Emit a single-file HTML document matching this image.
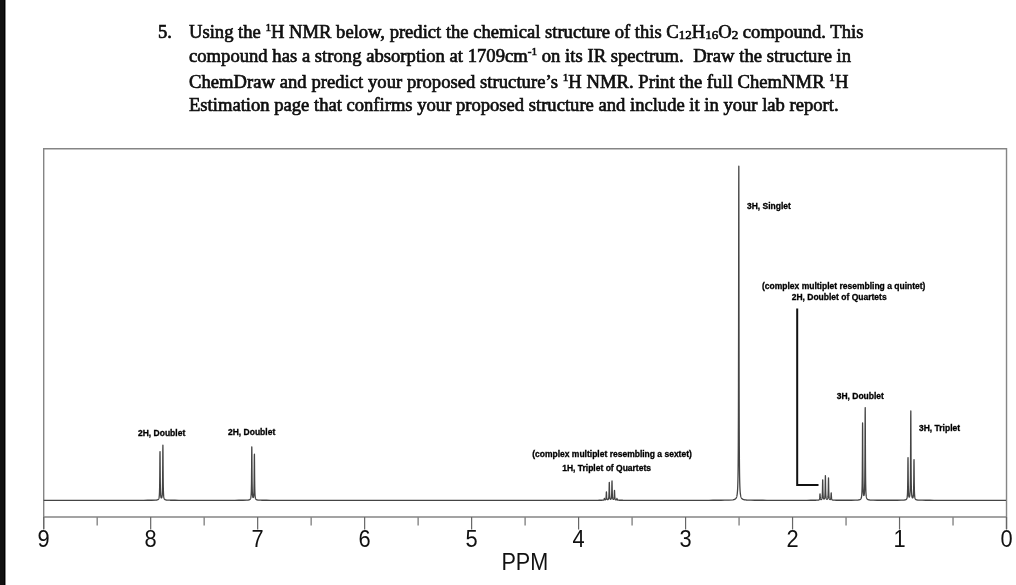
<!DOCTYPE html>
<html><head><meta charset="utf-8"><style>
html,body{margin:0;padding:0;background:#fff;}
body{width:1016px;height:585px;position:relative;overflow:hidden;}
.strip{position:absolute;left:0;top:0;width:4px;height:585px;background:#111;}
.strip2{position:absolute;left:4px;top:0;width:1px;height:585px;background:#000;}
.strip3{position:absolute;left:5px;top:0;width:1px;height:585px;background:#888;}
.t{position:absolute;font-family:"Liberation Serif",serif;font-size:18.6px;color:#111;white-space:pre;line-height:24.4px;-webkit-text-stroke:0.65px #0a0a0a;will-change:transform;}
sup{font-size:0.6em;vertical-align:0;position:relative;top:-0.62em;}
sub{font-size:0.7em;vertical-align:0;position:relative;top:0.09em;}
svg{position:absolute;left:0;top:0;}
.lab{font-family:"Liberation Sans",sans-serif;font-weight:bold;font-size:8.5px;fill:#000;stroke:#000;stroke-width:0.3px;}
.ax{font-family:"Liberation Sans",sans-serif;font-size:23.5px;fill:#111;}
</style></head><body>
<div class="strip"></div><div class="strip2"></div><div class="strip3"></div>
<div class="t" style="left:157.7px;top:19.9px;">5.</div>
<div class="t" style="left:189px;top:19.9px;">Using the <sup>1</sup>H NMR below, predict the chemical structure of this C<sub>12</sub>H<sub>16</sub>O<sub>2</sub> compound. This</div>
<div class="t" style="left:189px;top:43.7px;letter-spacing:0.025px;">compound has a strong absorption at 1709cm<sup>-1</sup> on its IR spectrum.  Draw the structure in</div>
<div class="t" style="left:189px;top:69.6px;letter-spacing:0.04px;">ChemDraw and predict your proposed structure’s <sup>1</sup>H NMR. Print the full ChemNMR <sup>1</sup>H</div>
<div class="t" style="left:189px;top:93px;">Estimation page that confirms your proposed structure and include it in your lab report.</div>
<svg width="1016" height="585" viewBox="0 0 1016 585">
<g fill="none" stroke="#858585" stroke-width="1.4">
<path d="M43.70,529 L43.70,148.8 L1006.52,148.8 L1006.52,529" />
<line x1="43.70" y1="517" x2="1006.52" y2="517" />
<line x1="43.70" y1="517" x2="43.70" y2="529.5" stroke="#666" stroke-width="1.2" /><line x1="97.19" y1="517" x2="97.19" y2="525.5" /><line x1="150.68" y1="517" x2="150.68" y2="529.5" stroke="#666" stroke-width="1.2" /><line x1="204.17" y1="517" x2="204.17" y2="525.5" /><line x1="257.66" y1="517" x2="257.66" y2="529.5" stroke="#666" stroke-width="1.2" /><line x1="311.15" y1="517" x2="311.15" y2="525.5" /><line x1="364.64" y1="517" x2="364.64" y2="529.5" stroke="#666" stroke-width="1.2" /><line x1="418.13" y1="517" x2="418.13" y2="525.5" /><line x1="471.62" y1="517" x2="471.62" y2="529.5" stroke="#666" stroke-width="1.2" /><line x1="525.11" y1="517" x2="525.11" y2="525.5" /><line x1="578.60" y1="517" x2="578.60" y2="529.5" stroke="#666" stroke-width="1.2" /><line x1="632.09" y1="517" x2="632.09" y2="525.5" /><line x1="685.58" y1="517" x2="685.58" y2="529.5" stroke="#666" stroke-width="1.2" /><line x1="739.07" y1="517" x2="739.07" y2="525.5" /><line x1="792.56" y1="517" x2="792.56" y2="529.5" stroke="#666" stroke-width="1.2" /><line x1="846.05" y1="517" x2="846.05" y2="525.5" /><line x1="899.54" y1="517" x2="899.54" y2="529.5" stroke="#666" stroke-width="1.2" /><line x1="953.03" y1="517" x2="953.03" y2="525.5" /><line x1="1006.52" y1="517" x2="1006.52" y2="529.5" stroke="#666" stroke-width="1.2" />
</g>
<path d="M43.70,500.30 L47.70,500.30 L51.70,500.30 L55.70,500.30 L59.70,500.30 L63.70,500.30 L67.70,500.30 L71.70,500.30 L75.70,500.30 L79.70,500.30 L83.70,500.30 L87.70,500.30 L91.70,500.30 L95.70,500.30 L99.70,500.30 L103.70,500.30 L107.70,500.30 L111.70,500.30 L115.70,500.30 L119.70,500.30 L123.70,500.30 L127.70,500.30 L131.70,500.29 L135.70,500.29 L139.70,500.29 L143.70,500.28 L147.70,500.27 L151.70,500.24 L155.70,500.12 L155.78,500.11 L155.86,500.11 L155.94,500.10 L156.02,500.09 L156.10,500.09 L156.18,500.08 L156.26,500.07 L156.34,500.06 L156.42,500.05 L156.50,500.04 L156.58,500.03 L156.66,500.02 L156.74,500.01 L156.82,500.00 L156.90,499.98 L156.98,499.97 L157.06,499.95 L157.14,499.93 L157.22,499.91 L157.30,499.89 L157.38,499.87 L157.46,499.85 L157.54,499.82 L157.62,499.79 L157.70,499.76 L157.78,499.72 L157.86,499.68 L157.94,499.64 L158.02,499.59 L158.10,499.54 L158.18,499.48 L158.26,499.41 L158.34,499.33 L158.42,499.24 L158.50,499.14 L158.58,499.01 L158.66,498.87 L158.74,498.70 L158.82,498.50 L158.90,498.26 L158.98,497.96 L159.06,497.59 L159.14,497.12 L159.22,496.51 L159.30,495.71 L159.38,494.63 L159.46,493.13 L159.54,490.98 L159.62,487.80 L159.70,482.98 L159.78,475.63 L159.86,465.28 L159.94,454.58 L160.02,451.58 L160.10,459.52 L160.18,470.71 L160.26,479.56 L160.34,485.50 L160.42,489.36 L160.50,491.93 L160.58,493.67 L160.66,494.90 L160.74,495.77 L160.82,496.42 L160.90,496.89 L160.98,497.25 L161.06,497.51 L161.14,497.70 L161.22,497.84 L161.30,497.92 L161.38,497.97 L161.46,497.97 L161.54,497.93 L161.62,497.84 L161.70,497.71 L161.78,497.53 L161.86,497.28 L161.94,496.95 L162.02,496.50 L162.10,495.92 L162.18,495.13 L162.26,494.05 L162.34,492.54 L162.42,490.39 L162.50,487.20 L162.58,482.36 L162.66,474.95 L162.74,464.14 L162.82,451.60 L162.90,445.22 L162.98,451.63 L163.06,464.21 L163.14,475.04 L163.22,482.48 L163.30,487.36 L163.38,490.58 L163.46,492.78 L163.54,494.32 L163.62,495.44 L163.70,496.27 L163.78,496.91 L163.86,497.41 L163.94,497.80 L164.02,498.12 L164.10,498.38 L164.18,498.59 L164.26,498.77 L164.34,498.92 L164.42,499.05 L164.50,499.17 L164.58,499.26 L164.66,499.35 L164.74,499.42 L164.82,499.49 L164.90,499.55 L164.98,499.60 L165.06,499.64 L165.14,499.69 L165.22,499.72 L165.30,499.76 L165.38,499.79 L165.46,499.82 L165.54,499.84 L165.62,499.87 L165.70,499.89 L165.78,499.91 L165.86,499.93 L165.94,499.95 L166.02,499.96 L166.10,499.98 L166.18,499.99 L166.26,500.01 L166.34,500.02 L166.42,500.03 L166.50,500.04 L166.58,500.05 L166.66,500.06 L166.74,500.07 L166.82,500.08 L166.90,500.08 L166.98,500.09 L167.06,500.10 L167.14,500.11 L167.22,500.11 L167.30,500.12 L167.38,500.12 L167.46,500.13 L167.54,500.13 L167.62,500.14 L167.70,500.14 L167.78,500.15 L167.86,500.15 L167.94,500.16 L168.02,500.16 L168.10,500.17 L168.18,500.17 L168.26,500.17 L168.34,500.18 L168.42,500.18 L168.50,500.18 L168.58,500.19 L168.66,500.19 L168.74,500.19 L168.82,500.19 L168.90,500.20 L168.98,500.20 L169.06,500.20 L169.14,500.20 L169.22,500.21 L169.30,500.21 L169.38,500.21 L169.46,500.21 L169.54,500.21 L169.62,500.22 L169.70,500.22 L169.78,500.22 L169.86,500.22 L169.94,500.22 L170.02,500.22 L170.10,500.22 L170.18,500.23 L170.26,500.23 L170.34,500.23 L170.42,500.23 L170.50,500.23 L170.58,500.23 L170.66,500.23 L170.74,500.24 L170.82,500.24 L170.90,500.24 L174.90,500.27 L178.90,500.28 L182.90,500.29 L186.90,500.29 L190.90,500.29 L194.90,500.29 L198.90,500.29 L202.90,500.30 L206.90,500.30 L210.90,500.30 L214.90,500.29 L218.90,500.29 L222.90,500.29 L226.90,500.29 L230.90,500.29 L234.90,500.28 L238.90,500.27 L242.90,500.25 L246.90,500.15 L246.98,500.15 L247.06,500.14 L247.14,500.14 L247.22,500.13 L247.30,500.13 L247.38,500.12 L247.46,500.12 L247.54,500.11 L247.62,500.10 L247.70,500.10 L247.78,500.09 L247.86,500.08 L247.94,500.07 L248.02,500.06 L248.10,500.05 L248.18,500.04 L248.26,500.03 L248.34,500.02 L248.42,500.01 L248.50,500.00 L248.58,499.98 L248.66,499.97 L248.74,499.95 L248.82,499.94 L248.90,499.92 L248.98,499.90 L249.06,499.88 L249.14,499.85 L249.22,499.83 L249.30,499.80 L249.38,499.77 L249.46,499.74 L249.54,499.70 L249.62,499.66 L249.70,499.62 L249.78,499.57 L249.86,499.51 L249.94,499.45 L250.02,499.38 L250.10,499.30 L250.18,499.20 L250.26,499.10 L250.34,498.97 L250.42,498.83 L250.50,498.66 L250.58,498.46 L250.66,498.22 L250.74,497.92 L250.82,497.55 L250.90,497.10 L250.98,496.51 L251.06,495.75 L251.14,494.73 L251.22,493.34 L251.30,491.37 L251.38,488.52 L251.46,484.22 L251.54,477.66 L251.62,467.91 L251.70,455.57 L251.78,446.82 L251.86,450.07 L251.94,461.78 L252.02,473.11 L252.10,481.14 L252.18,486.40 L252.26,489.84 L252.34,492.15 L252.42,493.74 L252.50,494.87 L252.58,495.69 L252.66,496.28 L252.74,496.72 L252.82,497.04 L252.90,497.27 L252.98,497.42 L253.06,497.50 L253.14,497.53 L253.22,497.49 L253.30,497.40 L253.38,497.23 L253.46,496.98 L253.54,496.62 L253.62,496.13 L253.70,495.45 L253.78,494.49 L253.86,493.13 L253.94,491.16 L254.02,488.21 L254.10,483.69 L254.18,476.80 L254.26,467.06 L254.34,456.99 L254.42,454.20 L254.50,461.74 L254.58,472.35 L254.66,480.75 L254.74,486.40 L254.82,490.09 L254.90,492.55 L254.98,494.25 L255.06,495.45 L255.14,496.32 L255.22,496.98 L255.30,497.49 L255.38,497.89 L255.46,498.20 L255.54,498.46 L255.62,498.67 L255.70,498.85 L255.78,498.99 L255.86,499.12 L255.94,499.23 L256.02,499.32 L256.10,499.40 L256.18,499.47 L256.26,499.53 L256.34,499.59 L256.42,499.64 L256.50,499.68 L256.58,499.72 L256.66,499.76 L256.74,499.79 L256.82,499.82 L256.90,499.85 L256.98,499.87 L257.06,499.89 L257.14,499.91 L257.22,499.93 L257.30,499.95 L257.38,499.97 L257.46,499.98 L257.54,500.00 L257.62,500.01 L257.70,500.02 L257.78,500.03 L257.86,500.04 L257.94,500.05 L258.02,500.06 L258.10,500.07 L258.18,500.08 L258.26,500.09 L258.34,500.10 L258.42,500.10 L258.50,500.11 L258.58,500.12 L258.66,500.12 L258.74,500.13 L258.82,500.13 L258.90,500.14 L258.98,500.14 L259.06,500.15 L259.14,500.15 L259.22,500.16 L259.30,500.16 L259.38,500.16 L259.46,500.17 L259.54,500.17 L259.62,500.18 L259.70,500.18 L259.78,500.18 L259.86,500.18 L259.94,500.19 L260.02,500.19 L260.10,500.19 L260.18,500.20 L260.26,500.20 L260.34,500.20 L260.42,500.20 L260.50,500.21 L260.58,500.21 L260.66,500.21 L260.74,500.21 L260.82,500.21 L260.90,500.22 L260.98,500.22 L261.06,500.22 L261.14,500.22 L261.22,500.22 L261.30,500.22 L261.38,500.23 L261.46,500.23 L261.54,500.23 L261.62,500.23 L261.70,500.23 L261.78,500.23 L261.86,500.23 L261.94,500.23 L262.02,500.24 L262.10,500.24 L262.18,500.24 L262.26,500.24 L262.34,500.24 L262.42,500.24 L266.42,500.27 L270.42,500.28 L274.42,500.29 L278.42,500.29 L282.42,500.29 L286.42,500.30 L290.42,500.30 L294.42,500.30 L298.42,500.30 L302.42,500.30 L306.42,500.30 L310.42,500.30 L314.42,500.30 L318.42,500.30 L322.42,500.30 L326.42,500.30 L330.42,500.30 L334.42,500.30 L338.42,500.30 L342.42,500.30 L346.42,500.30 L350.42,500.30 L354.42,500.30 L358.42,500.30 L362.42,500.30 L366.42,500.30 L370.42,500.30 L374.42,500.30 L378.42,500.30 L382.42,500.30 L386.42,500.30 L390.42,500.30 L394.42,500.30 L398.42,500.30 L402.42,500.30 L406.42,500.30 L410.42,500.30 L414.42,500.30 L418.42,500.30 L422.42,500.30 L426.42,500.30 L430.42,500.30 L434.42,500.30 L438.42,500.30 L442.42,500.30 L446.42,500.30 L450.42,500.30 L454.42,500.30 L458.42,500.30 L462.42,500.30 L466.42,500.30 L470.42,500.30 L474.42,500.30 L478.42,500.30 L482.42,500.30 L486.42,500.30 L490.42,500.30 L494.42,500.30 L498.42,500.30 L502.42,500.30 L506.42,500.30 L510.42,500.30 L514.42,500.30 L518.42,500.30 L522.42,500.30 L526.42,500.30 L530.42,500.30 L534.42,500.30 L538.42,500.30 L542.42,500.30 L546.42,500.30 L550.42,500.30 L554.42,500.30 L558.42,500.30 L562.42,500.30 L566.42,500.30 L570.42,500.30 L574.42,500.30 L578.42,500.30 L582.42,500.30 L586.42,500.29 L590.42,500.29 L594.42,500.29 L598.42,500.28 L598.50,500.28 L598.58,500.27 L598.66,500.27 L598.74,500.27 L598.82,500.27 L598.90,500.27 L598.98,500.27 L599.06,500.27 L599.14,500.27 L599.22,500.27 L599.30,500.27 L599.38,500.27 L599.46,500.27 L599.54,500.27 L599.62,500.27 L599.70,500.27 L599.78,500.27 L599.86,500.27 L599.94,500.27 L600.02,500.27 L600.10,500.26 L600.18,500.26 L600.26,500.26 L600.34,500.26 L600.42,500.26 L600.50,500.26 L600.58,500.26 L600.66,500.26 L600.74,500.26 L600.82,500.26 L600.90,500.26 L600.98,500.25 L601.06,500.25 L601.14,500.25 L601.22,500.25 L601.30,500.25 L601.38,500.25 L601.46,500.25 L601.54,500.25 L601.62,500.24 L601.70,500.24 L601.78,500.24 L601.86,500.24 L601.94,500.24 L602.02,500.23 L602.10,500.23 L602.18,500.23 L602.26,500.23 L602.34,500.22 L602.42,500.22 L602.50,500.22 L602.58,500.21 L602.66,500.21 L602.74,500.20 L602.82,500.20 L602.90,500.19 L602.98,500.19 L603.06,500.18 L603.14,500.17 L603.22,500.16 L603.30,500.15 L603.38,500.13 L603.46,500.12 L603.54,500.10 L603.62,500.07 L603.70,500.04 L603.78,499.99 L603.86,499.93 L603.94,499.85 L604.02,499.73 L604.10,499.54 L604.18,499.26 L604.26,498.88 L604.34,498.47 L604.42,498.35 L604.50,498.64 L604.58,499.04 L604.66,499.35 L604.74,499.56 L604.82,499.69 L604.90,499.76 L604.98,499.81 L605.06,499.83 L605.14,499.83 L605.22,499.82 L605.30,499.80 L605.38,499.76 L605.46,499.71 L605.54,499.63 L605.62,499.54 L605.70,499.41 L605.78,499.23 L605.86,498.97 L605.94,498.61 L606.02,498.07 L606.10,497.25 L606.18,496.00 L606.26,494.24 L606.34,492.42 L606.42,491.90 L606.50,493.25 L606.58,495.15 L606.66,496.65 L606.74,497.66 L606.82,498.31 L606.90,498.75 L606.98,499.04 L607.06,499.24 L607.14,499.38 L607.22,499.48 L607.30,499.56 L607.38,499.61 L607.46,499.64 L607.54,499.66 L607.62,499.67 L607.70,499.67 L607.78,499.66 L607.86,499.64 L607.94,499.60 L608.02,499.56 L608.10,499.50 L608.18,499.43 L608.26,499.34 L608.34,499.22 L608.42,499.06 L608.50,498.86 L608.58,498.60 L608.66,498.24 L608.74,497.74 L608.82,497.03 L608.90,495.98 L608.98,494.40 L609.06,491.99 L609.14,488.47 L609.22,484.38 L609.30,482.30 L609.38,484.37 L609.46,488.45 L609.54,491.95 L609.62,494.36 L609.70,495.93 L609.78,496.96 L609.86,497.66 L609.94,498.14 L610.02,498.48 L610.10,498.73 L610.18,498.92 L610.26,499.05 L610.34,499.15 L610.42,499.21 L610.50,499.26 L610.58,499.28 L610.66,499.28 L610.74,499.26 L610.82,499.23 L610.90,499.17 L610.98,499.08 L611.06,498.96 L611.14,498.80 L611.22,498.58 L611.30,498.28 L611.38,497.87 L611.46,497.30 L611.54,496.46 L611.62,495.22 L611.70,493.32 L611.78,490.43 L611.86,486.35 L611.94,482.12 L612.02,480.95 L612.10,484.09 L612.18,488.53 L612.26,492.04 L612.34,494.39 L612.42,495.93 L612.50,496.95 L612.58,497.65 L612.66,498.14 L612.74,498.49 L612.82,498.75 L612.90,498.95 L612.98,499.09 L613.06,499.20 L613.14,499.28 L613.22,499.34 L613.30,499.37 L613.38,499.39 L613.46,499.38 L613.54,499.36 L613.62,499.31 L613.70,499.23 L613.78,499.11 L613.86,498.94 L613.94,498.69 L614.02,498.31 L614.10,497.76 L614.18,496.90 L614.26,495.59 L614.34,493.67 L614.42,491.43 L614.50,490.30 L614.58,491.45 L614.66,493.70 L614.74,495.65 L614.82,496.98 L614.90,497.86 L614.98,498.44 L615.06,498.83 L615.14,499.11 L615.22,499.31 L615.30,499.46 L615.38,499.57 L615.46,499.66 L615.54,499.73 L615.62,499.78 L615.70,499.83 L615.78,499.86 L615.86,499.88 L615.94,499.90 L616.02,499.91 L616.10,499.91 L616.18,499.90 L616.26,499.88 L616.34,499.85 L616.42,499.79 L616.50,499.70 L616.58,499.55 L616.66,499.31 L616.74,498.97 L616.82,498.56 L616.90,498.36 L616.98,498.58 L617.06,498.99 L617.14,499.36 L617.22,499.61 L617.30,499.77 L617.38,499.88 L617.46,499.96 L617.54,500.01 L617.62,500.05 L617.70,500.08 L617.78,500.11 L617.86,500.12 L617.94,500.14 L618.02,500.15 L618.10,500.16 L618.18,500.17 L618.26,500.18 L618.34,500.19 L618.42,500.19 L618.50,500.20 L618.58,500.21 L618.66,500.21 L618.74,500.21 L618.82,500.22 L618.90,500.22 L618.98,500.22 L619.06,500.23 L619.14,500.23 L619.22,500.23 L619.30,500.23 L619.38,500.24 L619.46,500.24 L619.54,500.24 L619.62,500.24 L619.70,500.24 L619.78,500.25 L619.86,500.25 L619.94,500.25 L620.02,500.25 L620.10,500.25 L620.18,500.25 L620.26,500.25 L620.34,500.25 L620.42,500.26 L620.50,500.26 L620.58,500.26 L620.66,500.26 L620.74,500.26 L620.82,500.26 L620.90,500.26 L620.98,500.26 L621.06,500.26 L621.14,500.26 L621.22,500.26 L621.30,500.26 L621.38,500.27 L621.46,500.27 L621.54,500.27 L621.62,500.27 L621.70,500.27 L621.78,500.27 L621.86,500.27 L621.94,500.27 L622.02,500.27 L622.10,500.27 L622.18,500.27 L622.26,500.27 L622.34,500.27 L622.42,500.27 L622.50,500.27 L622.58,500.27 L622.66,500.27 L622.74,500.27 L622.82,500.27 L622.90,500.28 L622.98,500.28 L623.06,500.28 L623.14,500.28 L623.22,500.28 L623.30,500.28 L623.38,500.28 L623.46,500.28 L623.54,500.28 L623.62,500.28 L623.70,500.28 L623.78,500.28 L623.86,500.28 L623.94,500.28 L624.02,500.28 L624.10,500.28 L624.18,500.28 L624.26,500.28 L624.34,500.28 L624.42,500.28 L624.50,500.28 L624.58,500.28 L624.66,500.28 L624.74,500.28 L624.82,500.28 L624.90,500.28 L628.90,500.29 L632.90,500.29 L636.90,500.29 L640.90,500.29 L644.90,500.30 L648.90,500.30 L652.90,500.30 L656.90,500.30 L660.90,500.30 L664.90,500.30 L668.90,500.30 L672.90,500.29 L676.90,500.29 L680.90,500.29 L684.90,500.29 L688.90,500.29 L692.90,500.29 L696.90,500.29 L700.90,500.29 L704.90,500.28 L708.90,500.28 L712.90,500.27 L716.90,500.26 L720.90,500.25 L724.90,500.21 L728.90,500.13 L732.90,499.83 L732.98,499.82 L733.06,499.80 L733.14,499.79 L733.22,499.78 L733.30,499.76 L733.38,499.74 L733.46,499.73 L733.54,499.71 L733.62,499.69 L733.70,499.67 L733.78,499.65 L733.86,499.63 L733.94,499.61 L734.02,499.59 L734.10,499.56 L734.18,499.54 L734.26,499.51 L734.34,499.48 L734.42,499.45 L734.50,499.42 L734.58,499.39 L734.66,499.35 L734.74,499.31 L734.82,499.27 L734.90,499.23 L734.98,499.19 L735.06,499.14 L735.14,499.09 L735.22,499.03 L735.30,498.97 L735.38,498.91 L735.46,498.84 L735.54,498.77 L735.62,498.69 L735.70,498.61 L735.78,498.52 L735.86,498.42 L735.94,498.32 L736.02,498.20 L736.10,498.08 L736.18,497.94 L736.26,497.79 L736.34,497.63 L736.42,497.45 L736.50,497.24 L736.58,497.02 L736.66,496.78 L736.74,496.50 L736.82,496.19 L736.90,495.84 L736.98,495.45 L737.06,495.00 L737.14,494.48 L737.22,493.89 L737.30,493.21 L737.38,492.40 L737.46,491.46 L737.54,490.33 L737.62,488.98 L737.70,487.34 L737.78,485.33 L737.86,482.81 L737.94,479.61 L738.02,475.48 L738.10,470.02 L738.18,462.63 L738.26,452.35 L738.34,437.60 L738.42,415.75 L738.50,382.52 L738.58,331.90 L738.66,260.58 L738.74,186.82 L738.82,166.26 L738.90,221.17 L738.98,298.55 L739.06,359.77 L739.14,400.90 L739.22,427.78 L739.30,445.67 L739.38,457.94 L739.46,466.62 L739.54,472.95 L739.62,477.68 L739.70,481.31 L739.78,484.14 L739.86,486.39 L739.94,488.21 L740.02,489.69 L740.10,490.92 L740.18,491.95 L740.26,492.82 L740.34,493.56 L740.42,494.20 L740.50,494.75 L740.58,495.23 L740.66,495.65 L740.74,496.02 L740.82,496.35 L740.90,496.64 L740.98,496.90 L741.06,497.14 L741.14,497.35 L741.22,497.54 L741.30,497.71 L741.38,497.87 L741.46,498.01 L741.54,498.14 L741.62,498.26 L741.70,498.37 L741.78,498.47 L741.86,498.57 L741.94,498.65 L742.02,498.73 L742.10,498.81 L742.18,498.88 L742.26,498.94 L742.34,499.00 L742.42,499.06 L742.50,499.11 L742.58,499.16 L742.66,499.21 L742.74,499.25 L742.82,499.29 L742.90,499.33 L742.98,499.37 L743.06,499.40 L743.14,499.44 L743.22,499.47 L743.30,499.50 L743.38,499.52 L743.46,499.55 L743.54,499.57 L743.62,499.60 L743.70,499.62 L743.78,499.64 L743.86,499.66 L743.94,499.68 L744.02,499.70 L744.10,499.72 L744.18,499.74 L744.26,499.75 L744.34,499.77 L744.42,499.78 L744.50,499.80 L744.58,499.81 L744.66,499.82 L744.74,499.84 L744.82,499.85 L744.90,499.86 L744.98,499.87 L745.06,499.88 L745.14,499.89 L745.22,499.90 L745.30,499.91 L745.38,499.92 L745.46,499.93 L745.54,499.94 L745.62,499.95 L745.70,499.96 L745.78,499.96 L745.86,499.97 L745.94,499.98 L746.02,499.99 L746.10,499.99 L746.18,500.00 L746.26,500.01 L746.34,500.01 L746.42,500.02 L746.50,500.02 L746.58,500.03 L746.66,500.03 L746.74,500.04 L746.82,500.05 L750.82,500.19 L754.82,500.23 L758.82,500.26 L762.82,500.27 L766.82,500.28 L770.82,500.28 L774.82,500.28 L778.82,500.29 L782.82,500.29 L786.82,500.29 L790.82,500.29 L794.82,500.29 L798.82,500.29 L802.82,500.29 L806.82,500.28 L810.82,500.27 L814.82,500.25 L814.90,500.25 L814.98,500.25 L815.06,500.24 L815.14,500.24 L815.22,500.24 L815.30,500.24 L815.38,500.24 L815.46,500.24 L815.54,500.24 L815.62,500.24 L815.70,500.24 L815.78,500.23 L815.86,500.23 L815.94,500.23 L816.02,500.23 L816.10,500.23 L816.18,500.23 L816.26,500.22 L816.34,500.22 L816.42,500.22 L816.50,500.22 L816.58,500.22 L816.66,500.21 L816.74,500.21 L816.82,500.21 L816.90,500.20 L816.98,500.20 L817.06,500.20 L817.14,500.20 L817.22,500.19 L817.30,500.19 L817.38,500.18 L817.46,500.18 L817.54,500.17 L817.62,500.17 L817.70,500.16 L817.78,500.16 L817.86,500.15 L817.94,500.14 L818.02,500.14 L818.10,500.13 L818.18,500.12 L818.26,500.11 L818.34,500.09 L818.42,500.08 L818.50,500.06 L818.58,500.05 L818.66,500.03 L818.74,500.00 L818.82,499.97 L818.90,499.94 L818.98,499.90 L819.06,499.85 L819.14,499.78 L819.22,499.70 L819.30,499.59 L819.38,499.45 L819.46,499.25 L819.54,498.97 L819.62,498.55 L819.70,497.92 L819.78,496.97 L819.86,495.63 L819.94,494.24 L820.02,493.85 L820.10,494.86 L820.18,496.30 L820.26,497.43 L820.34,498.19 L820.42,498.68 L820.50,498.99 L820.58,499.21 L820.66,499.35 L820.74,499.45 L820.82,499.51 L820.90,499.55 L820.98,499.57 L821.06,499.58 L821.14,499.57 L821.22,499.55 L821.30,499.52 L821.38,499.48 L821.46,499.42 L821.54,499.34 L821.62,499.24 L821.70,499.11 L821.78,498.95 L821.86,498.75 L821.94,498.48 L822.02,498.11 L822.10,497.62 L822.18,496.92 L822.26,495.92 L822.34,494.42 L822.42,492.13 L822.50,488.68 L822.58,484.03 L822.66,479.92 L822.74,479.91 L822.82,484.01 L822.90,488.64 L822.98,492.08 L823.06,494.35 L823.14,495.83 L823.22,496.81 L823.30,497.49 L823.38,497.96 L823.46,498.30 L823.54,498.54 L823.62,498.72 L823.70,498.85 L823.78,498.94 L823.86,499.00 L823.94,499.03 L824.02,499.04 L824.10,499.02 L824.18,498.98 L824.26,498.92 L824.34,498.82 L824.42,498.69 L824.50,498.51 L824.58,498.27 L824.66,497.94 L824.74,497.49 L824.82,496.87 L824.90,495.99 L824.98,494.69 L825.06,492.74 L825.14,489.74 L825.22,485.28 L825.30,479.63 L825.38,475.62 L825.46,477.13 L825.54,482.51 L825.62,487.72 L825.70,491.42 L825.78,493.84 L825.86,495.44 L825.94,496.51 L826.02,497.25 L826.10,497.79 L826.18,498.17 L826.26,498.47 L826.34,498.69 L826.42,498.86 L826.50,498.99 L826.58,499.09 L826.66,499.16 L826.74,499.22 L826.82,499.25 L826.90,499.28 L826.98,499.28 L827.06,499.28 L827.14,499.26 L827.22,499.22 L827.30,499.16 L827.38,499.09 L827.46,498.98 L827.54,498.85 L827.62,498.67 L827.70,498.43 L827.78,498.10 L827.86,497.66 L827.94,497.05 L828.02,496.17 L828.10,494.87 L828.18,492.90 L828.26,489.89 L828.34,485.49 L828.42,480.38 L828.50,477.78 L828.58,480.39 L828.66,485.51 L828.74,489.91 L828.82,492.94 L828.90,494.92 L828.98,496.23 L829.06,497.11 L829.14,497.74 L829.22,498.19 L829.30,498.52 L829.38,498.77 L829.46,498.96 L829.54,499.11 L829.62,499.23 L829.70,499.32 L829.78,499.39 L829.86,499.45 L829.94,499.49 L830.02,499.51 L830.10,499.52 L830.18,499.52 L830.26,499.50 L830.34,499.46 L830.42,499.40 L830.50,499.30 L830.58,499.16 L830.66,498.96 L830.74,498.66 L830.82,498.20 L830.90,497.49 L830.98,496.41 L831.06,494.88 L831.14,493.29 L831.22,492.85 L831.30,494.05 L831.38,495.74 L831.46,497.07 L831.54,497.97 L831.62,498.56 L831.70,498.96 L831.78,499.23 L831.86,499.42 L831.94,499.56 L832.02,499.67 L832.10,499.75 L832.18,499.82 L832.26,499.87 L832.34,499.92 L832.42,499.95 L832.50,499.98 L832.58,500.01 L832.66,500.03 L832.74,500.05 L832.82,500.07 L832.90,500.08 L832.98,500.09 L833.06,500.10 L833.14,500.11 L833.22,500.12 L833.30,500.13 L833.38,500.14 L833.46,500.15 L833.54,500.15 L833.62,500.16 L833.70,500.16 L833.78,500.17 L833.86,500.17 L833.94,500.18 L834.02,500.18 L834.10,500.19 L834.18,500.19 L834.26,500.19 L834.34,500.20 L834.42,500.20 L834.50,500.20 L834.58,500.20 L834.66,500.21 L834.74,500.21 L834.82,500.21 L834.90,500.21 L834.98,500.22 L835.06,500.22 L835.14,500.22 L835.22,500.22 L835.30,500.22 L835.38,500.22 L835.46,500.23 L835.54,500.23 L835.62,500.23 L835.70,500.23 L835.78,500.23 L835.86,500.23 L835.94,500.23 L836.02,500.23 L836.10,500.24 L836.18,500.24 L836.26,500.24 L836.34,500.24 L836.42,500.24 L836.50,500.24 L836.58,500.24 L836.66,500.24 L836.74,500.24 L836.82,500.24 L836.90,500.24 L836.98,500.24 L837.06,500.25 L837.14,500.25 L837.22,500.25 L837.30,500.25 L837.38,500.25 L837.46,500.25 L837.54,500.25 L837.62,500.25 L837.70,500.25 L837.78,500.25 L837.86,500.25 L837.94,500.25 L838.02,500.25 L838.10,500.25 L838.18,500.25 L838.26,500.25 L838.34,500.25 L838.42,500.25 L838.50,500.25 L838.58,500.26 L838.66,500.26 L838.74,500.26 L838.82,500.26 L838.90,500.26 L838.98,500.26 L839.06,500.26 L839.14,500.26 L839.22,500.26 L843.22,500.26 L847.22,500.26 L851.22,500.24 L855.22,500.18 L855.30,500.18 L855.38,500.17 L855.46,500.17 L855.54,500.17 L855.62,500.17 L855.70,500.16 L855.78,500.16 L855.86,500.16 L855.94,500.15 L856.02,500.15 L856.10,500.15 L856.18,500.15 L856.26,500.14 L856.34,500.14 L856.42,500.14 L856.50,500.13 L856.58,500.13 L856.66,500.12 L856.74,500.12 L856.82,500.12 L856.90,500.11 L856.98,500.11 L857.06,500.10 L857.14,500.10 L857.22,500.09 L857.30,500.09 L857.38,500.08 L857.46,500.08 L857.54,500.07 L857.62,500.06 L857.70,500.06 L857.78,500.05 L857.86,500.04 L857.94,500.03 L858.02,500.03 L858.10,500.02 L858.18,500.01 L858.26,500.00 L858.34,499.99 L858.42,499.98 L858.50,499.97 L858.58,499.96 L858.66,499.95 L858.74,499.93 L858.82,499.92 L858.90,499.91 L858.98,499.89 L859.06,499.88 L859.14,499.86 L859.22,499.84 L859.30,499.82 L859.38,499.80 L859.46,499.78 L859.54,499.75 L859.62,499.73 L859.70,499.70 L859.78,499.67 L859.86,499.64 L859.94,499.60 L860.02,499.57 L860.10,499.53 L860.18,499.48 L860.26,499.43 L860.34,499.38 L860.42,499.32 L860.50,499.25 L860.58,499.18 L860.66,499.09 L860.74,499.00 L860.82,498.90 L860.90,498.78 L860.98,498.64 L861.06,498.48 L861.14,498.30 L861.22,498.09 L861.30,497.85 L861.38,497.55 L861.46,497.20 L861.54,496.77 L861.62,496.23 L861.70,495.57 L861.78,494.72 L861.86,493.61 L861.94,492.14 L862.02,490.13 L862.10,487.29 L862.18,483.16 L862.26,476.96 L862.34,467.49 L862.42,453.41 L862.50,435.62 L862.58,422.98 L862.66,427.65 L862.74,444.54 L862.82,460.86 L862.90,472.42 L862.98,479.98 L863.06,484.93 L863.14,488.24 L863.22,490.51 L863.30,492.11 L863.38,493.26 L863.46,494.08 L863.54,494.67 L863.62,495.09 L863.70,495.36 L863.78,495.52 L863.86,495.57 L863.94,495.52 L864.02,495.36 L864.10,495.09 L864.18,494.69 L864.26,494.13 L864.34,493.37 L864.42,492.33 L864.50,490.92 L864.58,488.96 L864.66,486.20 L864.74,482.19 L864.82,476.22 L864.90,467.10 L864.98,453.19 L865.06,433.56 L865.14,413.25 L865.22,407.61 L865.30,422.79 L865.38,444.16 L865.46,461.08 L865.54,472.45 L865.62,479.88 L865.70,484.84 L865.78,488.24 L865.86,490.65 L865.94,492.41 L866.02,493.74 L866.10,494.75 L866.18,495.54 L866.26,496.18 L866.34,496.69 L866.42,497.11 L866.50,497.46 L866.58,497.75 L866.66,498.00 L866.74,498.22 L866.82,498.40 L866.90,498.56 L866.98,498.70 L867.06,498.82 L867.14,498.93 L867.22,499.03 L867.30,499.11 L867.38,499.19 L867.46,499.26 L867.54,499.33 L867.62,499.38 L867.70,499.43 L867.78,499.48 L867.86,499.53 L867.94,499.57 L868.02,499.60 L868.10,499.64 L868.18,499.67 L868.26,499.70 L868.34,499.72 L868.42,499.75 L868.50,499.77 L868.58,499.80 L868.66,499.82 L868.74,499.84 L868.82,499.85 L868.90,499.87 L868.98,499.89 L869.06,499.90 L869.14,499.92 L869.22,499.93 L869.30,499.94 L869.38,499.95 L869.46,499.97 L869.54,499.98 L869.62,499.99 L869.70,500.00 L869.78,500.01 L869.86,500.01 L869.94,500.02 L870.02,500.03 L870.10,500.04 L870.18,500.05 L870.26,500.05 L870.34,500.06 L870.42,500.07 L870.50,500.07 L870.58,500.08 L870.66,500.08 L870.74,500.09 L870.82,500.09 L870.90,500.10 L870.98,500.10 L871.06,500.11 L871.14,500.11 L871.22,500.12 L871.30,500.12 L871.38,500.13 L871.46,500.13 L871.54,500.13 L871.62,500.14 L871.70,500.14 L871.78,500.14 L871.86,500.15 L871.94,500.15 L872.02,500.15 L872.10,500.16 L872.18,500.16 L872.26,500.16 L872.34,500.16 L872.42,500.17 L872.50,500.17 L872.58,500.17 L872.66,500.17 L872.74,500.18 L872.82,500.18 L872.90,500.18 L872.98,500.18 L873.06,500.18 L873.14,500.19 L873.22,500.19 L877.22,500.24 L881.22,500.26 L885.22,500.27 L889.22,500.27 L893.22,500.26 L897.22,500.24 L901.22,500.19 L901.30,500.19 L901.38,500.18 L901.46,500.18 L901.54,500.18 L901.62,500.18 L901.70,500.18 L901.78,500.17 L901.86,500.17 L901.94,500.17 L902.02,500.17 L902.10,500.16 L902.18,500.16 L902.26,500.16 L902.34,500.15 L902.42,500.15 L902.50,500.15 L902.58,500.14 L902.66,500.14 L902.74,500.14 L902.82,500.13 L902.90,500.13 L902.98,500.12 L903.06,500.12 L903.14,500.12 L903.22,500.11 L903.30,500.11 L903.38,500.10 L903.46,500.10 L903.54,500.09 L903.62,500.08 L903.70,500.08 L903.78,500.07 L903.86,500.06 L903.94,500.06 L904.02,500.05 L904.10,500.04 L904.18,500.03 L904.26,500.03 L904.34,500.02 L904.42,500.01 L904.50,500.00 L904.58,499.98 L904.66,499.97 L904.74,499.96 L904.82,499.95 L904.90,499.93 L904.98,499.92 L905.06,499.90 L905.14,499.88 L905.22,499.86 L905.30,499.84 L905.38,499.82 L905.46,499.80 L905.54,499.77 L905.62,499.74 L905.70,499.71 L905.78,499.68 L905.86,499.64 L905.94,499.60 L906.02,499.56 L906.10,499.50 L906.18,499.45 L906.26,499.38 L906.34,499.31 L906.42,499.23 L906.50,499.13 L906.58,499.02 L906.66,498.89 L906.74,498.74 L906.82,498.56 L906.90,498.34 L906.98,498.07 L907.06,497.74 L907.14,497.32 L907.22,496.78 L907.30,496.08 L907.38,495.13 L907.46,493.81 L907.54,491.93 L907.62,489.15 L907.70,484.93 L907.78,478.52 L907.86,469.49 L907.94,460.16 L908.02,457.53 L908.10,464.42 L908.18,474.15 L908.26,481.84 L908.34,486.98 L908.42,490.32 L908.50,492.52 L908.58,494.01 L908.66,495.04 L908.74,495.76 L908.82,496.28 L908.90,496.64 L908.98,496.89 L909.06,497.05 L909.14,497.14 L909.22,497.17 L909.30,497.14 L909.38,497.05 L909.46,496.90 L909.54,496.70 L909.62,496.41 L909.70,496.04 L909.78,495.56 L909.86,494.94 L909.94,494.13 L910.02,493.07 L910.10,491.65 L910.18,489.71 L910.26,487.00 L910.34,483.10 L910.42,477.30 L910.50,468.47 L910.58,455.02 L910.66,436.06 L910.74,416.44 L910.82,410.98 L910.90,425.59 L910.98,446.18 L911.06,462.47 L911.14,473.41 L911.22,480.55 L911.30,485.31 L911.38,488.56 L911.46,490.86 L911.54,492.53 L911.62,493.78 L911.70,494.73 L911.78,495.46 L911.86,496.03 L911.94,496.49 L912.02,496.85 L912.10,497.14 L912.18,497.37 L912.26,497.55 L912.34,497.69 L912.42,497.80 L912.50,497.86 L912.58,497.90 L912.66,497.90 L912.74,497.87 L912.82,497.79 L912.90,497.68 L912.98,497.50 L913.06,497.27 L913.14,496.94 L913.22,496.49 L913.30,495.88 L913.38,495.04 L913.46,493.84 L913.54,492.10 L913.62,489.50 L913.70,485.52 L913.78,479.45 L913.86,470.88 L913.94,462.01 L914.02,459.56 L914.10,466.20 L914.18,475.54 L914.26,482.94 L914.34,487.92 L914.42,491.17 L914.50,493.35 L914.58,494.84 L914.66,495.90 L914.74,496.67 L914.82,497.26 L914.90,497.71 L914.98,498.06 L915.06,498.34 L915.14,498.57 L915.22,498.76 L915.30,498.91 L915.38,499.05 L915.46,499.16 L915.54,499.26 L915.62,499.34 L915.70,499.41 L915.78,499.48 L915.86,499.53 L915.94,499.58 L916.02,499.63 L916.10,499.67 L916.18,499.71 L916.26,499.74 L916.34,499.77 L916.42,499.80 L916.50,499.82 L916.58,499.85 L916.66,499.87 L916.74,499.89 L916.82,499.90 L916.90,499.92 L916.98,499.94 L917.06,499.95 L917.14,499.97 L917.22,499.98 L917.30,499.99 L917.38,500.00 L917.46,500.01 L917.54,500.02 L917.62,500.03 L917.70,500.04 L917.78,500.05 L917.86,500.06 L917.94,500.06 L918.02,500.07 L918.10,500.08 L918.18,500.08 L918.26,500.09 L918.34,500.10 L918.42,500.10 L918.50,500.11 L918.58,500.11 L918.66,500.12 L918.74,500.12 L918.82,500.13 L918.90,500.13 L918.98,500.14 L919.06,500.14 L919.14,500.14 L919.22,500.15 L919.30,500.15 L919.38,500.15 L919.46,500.16 L919.54,500.16 L919.62,500.16 L919.70,500.17 L919.78,500.17 L919.86,500.17 L919.94,500.17 L920.02,500.18 L920.10,500.18 L920.18,500.18 L920.26,500.18 L920.34,500.19 L920.42,500.19 L920.50,500.19 L920.58,500.19 L920.66,500.19 L920.74,500.20 L920.82,500.20 L920.90,500.20 L920.98,500.20 L921.06,500.20 L921.14,500.21 L921.22,500.21 L921.30,500.21 L921.38,500.21 L921.46,500.21 L921.54,500.21 L921.62,500.21 L921.70,500.22 L921.78,500.22 L921.86,500.22 L921.94,500.22 L922.02,500.22 L926.02,500.26 L930.02,500.27 L934.02,500.28 L938.02,500.29 L942.02,500.29 L946.02,500.29 L950.02,500.29 L954.02,500.29 L958.02,500.29 L962.02,500.30 L966.02,500.30 L970.02,500.30 L974.02,500.30 L978.02,500.30 L982.02,500.30 L986.02,500.30 L990.02,500.30 L994.02,500.30 L998.02,500.30 L1002.02,500.30 L1006.02,500.30" fill="none" stroke="#444" stroke-width="1.3" stroke-linejoin="round" />
<path d="M797.2,308.4 L797.2,485 L818.5,485" fill="none" stroke="#111" stroke-width="2" />
<g class="lab">
<text x="138" y="436">2H, Doublet</text>
<text x="228" y="435">2H, Doublet</text>
<text x="532.2" y="457">(complex multiplet resembling a sextet)</text>
<text x="562.2" y="471.4">1H, Triplet of Quartets</text>
<text x="747" y="209">3H, Singlet</text>
<text x="762" y="289.4">(complex multiplet resembling a quintet)</text>
<text x="791.7" y="300.4">2H, Doublet of Quartets</text>
<text x="836.7" y="399">3H, Doublet</text>
<text x="919" y="431">3H, Triplet</text>
</g>
<g class="ax">
<text transform="translate(43.70,547) scale(0.93,1)" text-anchor="middle">9</text><text transform="translate(150.68,547) scale(0.93,1)" text-anchor="middle">8</text><text transform="translate(257.66,547) scale(0.93,1)" text-anchor="middle">7</text><text transform="translate(364.64,547) scale(0.93,1)" text-anchor="middle">6</text><text transform="translate(471.62,547) scale(0.93,1)" text-anchor="middle">5</text><text transform="translate(578.60,547) scale(0.93,1)" text-anchor="middle">4</text><text transform="translate(685.58,547) scale(0.93,1)" text-anchor="middle">3</text><text transform="translate(792.56,547) scale(0.93,1)" text-anchor="middle">2</text><text transform="translate(899.54,547) scale(0.93,1)" text-anchor="middle">1</text><text transform="translate(1006.52,547) scale(0.93,1)" text-anchor="middle">0</text>
<text transform="translate(524.8,570) scale(0.94,1)" text-anchor="middle" style="font-size:23px">PPM</text>
</g>
</svg>
</body></html>
